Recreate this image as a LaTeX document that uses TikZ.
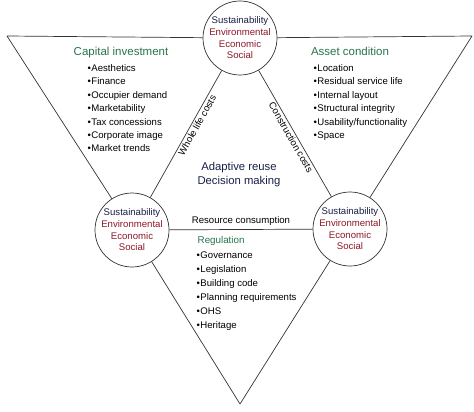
\documentclass[tikz,border=0pt]{standalone}
\usepackage{fontspec}
\setmainfont{Liberation Sans}

\definecolor{titlegreen}{RGB}{40,115,75}
\definecolor{pillarred}{RGB}{140,25,40}
\definecolor{navytext}{RGB}{25,30,70}
\newcommand{\bul}{\textbullet\hspace{0.6pt}}

\begin{document}
\begin{tikzpicture}[x=1pt,y=-1pt,
  edge/.style={draw=black!80,line width=0.7pt},
  pillar/.style={circle,draw=black!80,line width=0.7pt,fill=white,minimum size=74pt,inner sep=0pt},
  pillartext/.style={align=center,text=pillarred,font=\fontsize{9.6}{11.7}\selectfont,inner sep=0pt},
  item/.style={anchor=base west,font=\fontsize{9.6}{11.5}\selectfont,inner sep=0pt},
  heading/.style={anchor=base,font=\fontsize{11.5}{14}\selectfont,text=titlegreen,inner sep=0pt},
  costlabel/.style={font=\fontsize{9.6}{11}\selectfont,sloped,inner sep=1.5pt}]

\useasboundingbox (0,0) rectangle (474,412);

% corners of the outer triangle
\coordinate (tl) at (7,36);
\coordinate (tr) at (472,36);
\coordinate (bot) at (240,404);

\node[pillar] (top) at (240,38) {};
\node[pillar] (left) at (132,230) {};
\node[pillar] (right) at (350,229) {};

\foreach \n in {top,left,right}
  \node[pillartext] (\n-txt) at (\n) {\textcolor{navytext}{Sustainability}\\Environmental\\Economic\\Social};

\draw[edge] (tl) -- (top)  (top) -- (tr)  (tr) -- (right)
  (right) -- (bot)  (bot) -- (left)  (left) -- (tl);

\draw[edge] (left) -- node[costlabel,below,pos=0.59] {Whole life costs} (top);
\draw[edge] (top) -- node[costlabel,below,pos=0.51] {Construction costs} (right);
\draw[edge] (left) -- node[above,font=\fontsize{9.6}{11}\selectfont] {Resource consumption} (right);

\node[font=\fontsize{11.3}{14}\selectfont,text=navytext,align=center] (reuse) at (239,175) {Adaptive reuse\\Decision making};

% capital investment
\node[heading] (capital) at (121,56) {Capital investment};
\foreach \t [count=\i from 0] in {Aesthetics,Finance,Occupier demand,Marketability,Tax concessions,Corporate image,Market trends}
  \node[item] (cap-\i) at (87.3,71.5+13.4*\i) {\bul\t};

% asset condition
\node[heading] (asset) at (350,56) {Asset condition};
\foreach \t [count=\i from 0] in {Location,Residual service life,Internal layout,Structural integrity,Usability/functionality,Space}
  \node[item] (ast-\i) at (313.3,71.5+13.4*\i) {\bul\t};

% regulation
\node[heading,anchor=base west,font=\fontsize{9.8}{12}\selectfont] (regulation) at (197.5,243.5) {Regulation};
\foreach \t [count=\i from 0] in {Governance,Legislation,Building code,Planning requirements,OHS,Heritage}
  \node[item] (reg-\i) at (196.3,258.5+14*\i) {\bul\t};

\end{tikzpicture}
\end{document}
